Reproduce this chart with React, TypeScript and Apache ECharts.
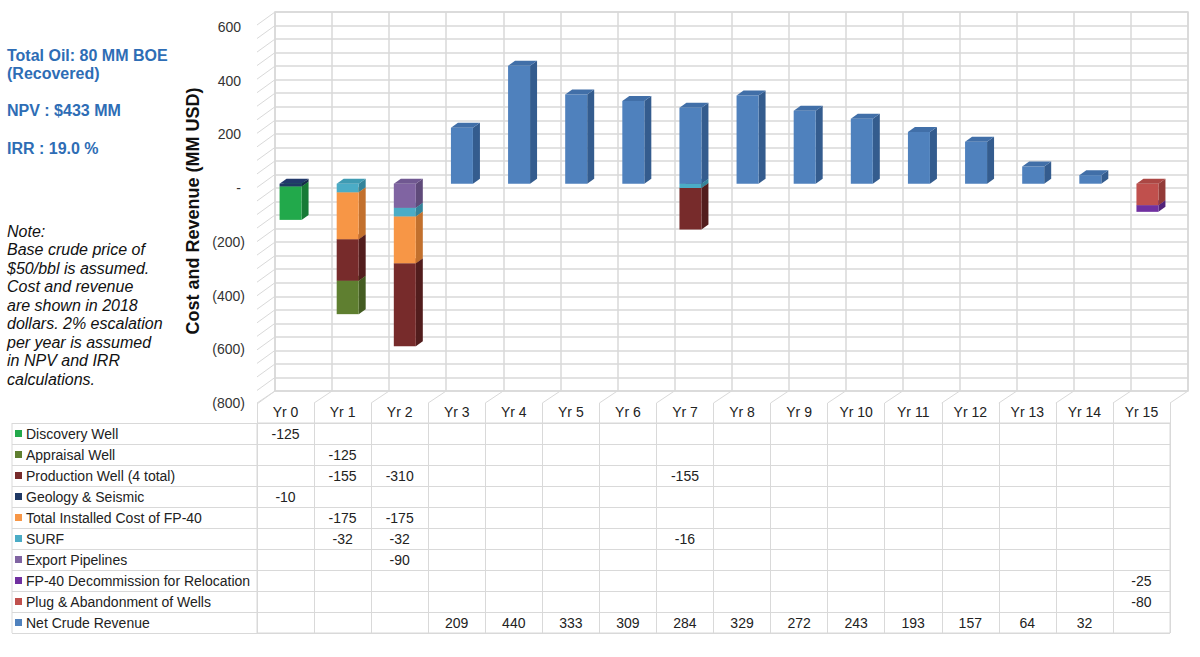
import React, { useEffect, useRef } from 'react';
import * as echarts from 'echarts';

const N = null;
const years = ['Yr 0', 'Yr 1', 'Yr 2', 'Yr 3', 'Yr 4', 'Yr 5', 'Yr 6', 'Yr 7', 'Yr 8', 'Yr 9', 'Yr 10', 'Yr 11', 'Yr 12', 'Yr 13', 'Yr 14', 'Yr 15'];
const discoveryWell = [-125, N, N, N, N, N, N, N, N, N, N, N, N, N, N, N];
const appraisalWell = [N, -125, N, N, N, N, N, N, N, N, N, N, N, N, N, N];
const productionWell = [N, -155, -310, N, N, N, N, -155, N, N, N, N, N, N, N, N];
const geologySeismic = [-10, N, N, N, N, N, N, N, N, N, N, N, N, N, N, N];
const totalInstalledCost = [N, -175, -175, N, N, N, N, N, N, N, N, N, N, N, N, N];
const surf = [N, -32, -32, N, N, N, N, -16, N, N, N, N, N, N, N, N];
const exportPipelines = [N, N, -90, N, N, N, N, N, N, N, N, N, N, N, N, N];
const decommission = [N, N, N, N, N, N, N, N, N, N, N, N, N, N, N, -25];
const plugAbandonment = [N, N, N, N, N, N, N, N, N, N, N, N, N, N, N, -80];
const netCrudeRevenue = [N, N, N, 209, 440, 333, 309, 284, 329, 272, 243, 193, 157, 64, 32, N];

const infoLines = ['Total Oil: 80 MM BOE', '(Recovered)', 'NPV : $433 MM', 'IRR : 19.0 %'];
const noteLines = ['Note:', 'Base crude price of', '$50/bbl is assumed.', 'Cost and revenue', 'are shown in 2018', 'dollars. 2% escalation', 'per year is assumed', 'in NPV and IRR', 'calculations.'];
const yTitle = 'Cost and Revenue (MM USD)';

type Item = { name: string; values: (number | null)[]; front: string; side: string; top: string };

const items: Item[] = [
  { name: 'Discovery Well', values: discoveryWell, front: '#22A94B', side: '#177A36', top: '#1C8F40' },
  { name: 'Appraisal Well', values: appraisalWell, front: '#5F7F30', side: '#445C22', top: '#536F2A' },
  { name: 'Production Well (4 total)', values: productionWell, front: '#772B2B', side: '#521D1D', top: '#682626' },
  { name: 'Geology & Seismic', values: geologySeismic, front: '#1F3864', side: '#16294A', top: '#22396B' },
  { name: 'Total Installed Cost of FP-40', values: totalInstalledCost, front: '#F79646', side: '#C2702D', top: '#E0853B' },
  { name: 'SURF', values: surf, front: '#4BACC6', side: '#34849A', top: '#3F9BB3' },
  { name: 'Export Pipelines', values: exportPipelines, front: '#8064A2', side: '#5F4A7A', top: '#705891' },
  { name: 'FP-40 Decommission for Relocation', values: decommission, front: '#7030A0', side: '#52237A', top: '#622A8E' },
  { name: 'Plug & Abandonment of Wells', values: plugAbandonment, front: '#C0504D', side: '#933B38', top: '#AB4744' },
  { name: 'Net Crude Revenue', values: netCrudeRevenue, front: '#4F81BD', side: '#345C8E', top: '#416FA8' },
];

// order of stacking, from zero outward
const stackOrder = [
  'Geology & Seismic', 'Plug & Abandonment of Wells', 'Export Pipelines', 'SURF',
  'Total Installed Cost of FP-40', 'Production Well (4 total)', 'FP-40 Decommission for Relocation',
  'Appraisal Well', 'Discovery Well', 'Net Crude Revenue',
];

const FONT = 'Liberation Sans, Arial, Helvetica, sans-serif';
const GRID_LINE = '#d9d9d9';

function buildSegments() {
  const segs: Record<string, number[][]> = {};
  stackOrder.forEach((n) => (segs[n] = []));
  years.forEach((_, k) => {
    let neg = 0;
    let pos = 0;
    stackOrder.forEach((n) => {
      const it = items.find((i) => i.name === n)!;
      const v = it.values[k];
      if (v == null) return;
      if (v < 0) {
        segs[n].push([k, neg, neg + v]);
        neg += v;
      } else {
        segs[n].push([k, pos, pos + v]);
        pos += v;
      }
    });
  });
  return segs;
}

const makeBarRender = (it: Item) => (params: any, api: any) => {
  const k = api.value(0);
  const a = api.coord([k, api.value(1)]);
  const b = api.coord([k, api.value(2)]);
  const bw = api.size([1, 0])[0] * 0.385;
  const L = a[0] - bw / 2;
  const R = a[0] + bw / 2;
  const yT = Math.min(a[1], b[1]);
  const yB = Math.max(a[1], b[1]);
  const dx = 7;
  const dy = 5;
  return {
    type: 'group',
    children: [
      { type: 'polygon', shape: { points: [[R, yT], [R + dx, yT - dy], [R + dx, yB - dy], [R, yB]] }, style: { fill: it.side } },
      { type: 'rect', shape: { x: L, y: yT, width: R - L, height: yB - yT }, style: { fill: it.front } },
      { type: 'polygon', shape: { points: [[L, yT], [R, yT], [R + dx, yT - dy], [L + dx, yT - dy]] }, style: { fill: it.top } },
    ],
  };
};

export default function App() {
  const ref = useRef<HTMLDivElement>(null);
  useEffect(() => {
    if (!ref.current) return;
    const chart = echarts.init(ref.current, undefined, { renderer: 'svg' });
    const segs = buildSegments();
    const drawOrder = stackOrder.slice(0, stackOrder.length - 1).reverse().concat(['Net Crude Revenue']);

    const barSeries = drawOrder.map((n) => {
      const it = items.find((i) => i.name === n)!;
      return {
        type: 'custom',
        name: n,
        xAxisIndex: 0,
        yAxisIndex: 0,
        clip: false,
        renderItem: makeBarRender(it),
        data: segs[n],
        silent: true,
      };
    });

    const tableData: number[][] = [];
    items.forEach((it, r) => {
      it.values.forEach((v, k) => {
        if (v != null) tableData.push([k, r, v]);
      });
    });

    const rich: Record<string, any> = {
      t: { fontSize: 14, color: '#222', padding: [0, 0, 0, 4], fontFamily: FONT, verticalAlign: 'middle' },
    };
    items.forEach((it, i) => {
      rich['s' + i] = { width: 7, height: 7, backgroundColor: it.front, verticalAlign: 'middle' };
    });

    const graphic: any[] = [
      { type: 'line', shape: { x1: 12, y1: 423, x2: 12, y2: 633 }, style: { stroke: GRID_LINE, lineWidth: 1 } },
      {
        type: 'text', x: 7, y: 46,
        style: { text: infoLines[0] + '\n' + infoLines[1], fontSize: 16, fontWeight: 'bold', fontFamily: FONT, fill: '#2E6DB5', lineHeight: 18, verticalAlign: 'top' },
      },
      { type: 'text', x: 7, y: 110, style: { text: infoLines[2], fontSize: 16, fontWeight: 'bold', fontFamily: FONT, fill: '#2E6DB5', verticalAlign: 'middle' } },
      { type: 'text', x: 7, y: 148, style: { text: infoLines[3], fontSize: 16, fontWeight: 'bold', fontFamily: FONT, fill: '#2E6DB5', verticalAlign: 'middle' } },
      {
        type: 'text', x: 7, y: 222,
        style: { text: noteLines.join('\n'), fontSize: 16, fontStyle: 'italic', fontFamily: FONT, fill: '#111', lineHeight: 18.5, verticalAlign: 'top' },
      },
      {
        type: 'text', x: 193, y: 211, rotation: Math.PI / 2,
        style: { text: yTitle, fontSize: 18, fontWeight: 'bold', fontFamily: FONT, fill: '#111', align: 'center', verticalAlign: 'middle' },
      },
    ];

    chart.setOption({
      animation: false,
      backgroundColor: '#ffffff',
      textStyle: { fontFamily: FONT },
      graphic,
      grid: [
        { left: 262, top: 23, width: 914, height: 375 },
        { left: 275, top: 12, width: 913, height: 379, show: true, borderColor: GRID_LINE, borderWidth: 1.5, backgroundColor: 'transparent' },
        { left: 257, top: 27, width: 913, height: 376 },
        { left: 257, top: 423, width: 913, height: 210, show: true, borderColor: GRID_LINE, borderWidth: 1, backgroundColor: 'transparent' },
      ],
      xAxis: [
        { gridIndex: 0, type: 'category', data: years, show: false },
        {
          gridIndex: 1, type: 'category', data: years,
          axisLine: { show: false }, axisTick: { show: false }, axisLabel: { show: false },
          splitLine: { show: true, interval: 0, lineStyle: { color: GRID_LINE, width: 1.5 } },
        },
        { gridIndex: 2, type: 'category', data: years, show: false },
        {
          gridIndex: 3, type: 'category', data: years, position: 'top',
          axisLine: { show: true, lineStyle: { color: GRID_LINE } },
          axisTick: { show: true, interval: 0, length: 20, lineStyle: { color: GRID_LINE } },
          axisLabel: { interval: 0, margin: 4, fontSize: 14, color: '#222', fontFamily: FONT },
          splitLine: { show: true, interval: 0, lineStyle: { color: GRID_LINE } },
        },
      ],
      yAxis: [
        { gridIndex: 0, type: 'value', min: -800, max: 600, show: false },
        {
          gridIndex: 1, type: 'value', min: -800, max: 600, interval: 50,
          axisLine: { show: false }, axisTick: { show: false }, axisLabel: { show: false },
          splitLine: { show: true, lineStyle: { color: GRID_LINE, width: 1.5 } },
        },
        {
          gridIndex: 2, type: 'value', min: -800, max: 600, interval: 200,
          axisLine: { show: false }, axisTick: { show: false }, splitLine: { show: false },
          axisLabel: {
            margin: 12, fontSize: 14, color: '#333', fontFamily: FONT,
            formatter: (v: number) => (v > 0 ? `{p|${v}}` : v === 0 ? '{p|-}' : `(${-v})`),
            rich: { p: { padding: [0, 4, 0, 0], fontSize: 14, color: '#333', fontFamily: FONT } },
          },
        },
        {
          gridIndex: 3, type: 'category', data: items.map((i) => i.name), inverse: true,
          axisLine: { show: true, lineStyle: { color: GRID_LINE } },
          axisTick: { show: true, interval: 0, length: 245, lineStyle: { color: GRID_LINE } },
          axisLabel: {
            interval: 0, align: 'left', margin: 242,
            formatter: (v: string, i: number) => `{s${i}|}{t|${v}}`,
            rich,
          },
          splitLine: { show: true, interval: 0, lineStyle: { color: GRID_LINE } },
        },
      ],
      series: [
        {
          type: 'custom',
          xAxisIndex: 1,
          yAxisIndex: 1,
          clip: false,
          silent: true,
          data: [[0, 0]],
          renderItem: (params: any, api: any) => {
            const cs = params.coordSys;
            const children: any[] = [];
            for (let v = -800; v <= 600; v += 50) {
              const p = api.coord([0, v]);
              children.push({ type: 'line', shape: { x1: cs.x, y1: p[1], x2: cs.x - 18, y2: p[1] + 13 }, style: { stroke: GRID_LINE, lineWidth: 1 } });
            }
            const bw = cs.width / years.length;
            for (let i = 0; i <= years.length; i++) {
              const x = cs.x + i * bw;
              children.push({ type: 'line', shape: { x1: x, y1: cs.y + cs.height, x2: x - 18, y2: cs.y + cs.height + 12 }, style: { stroke: GRID_LINE, lineWidth: 1 } });
            }
            return { type: 'group', children };
          },
        },
        ...barSeries,
        {
          type: 'custom',
          xAxisIndex: 3,
          yAxisIndex: 3,
          silent: true,
          data: tableData,
          renderItem: (params: any, api: any) => {
            const p = api.coord([api.value(0), api.value(1)]);
            return {
              type: 'text',
              x: p[0], y: p[1],
              style: { text: String(api.value(2)), fontSize: 14, fontFamily: FONT, fill: '#222', align: 'center', verticalAlign: 'middle' },
            };
          },
        },
      ],
    });
    return () => chart.dispose();
  }, []);
  return <div ref={ref} style={{ position: 'fixed', left: 0, top: 0, width: 1200, height: 657, background: '#fff' }} />;
}
